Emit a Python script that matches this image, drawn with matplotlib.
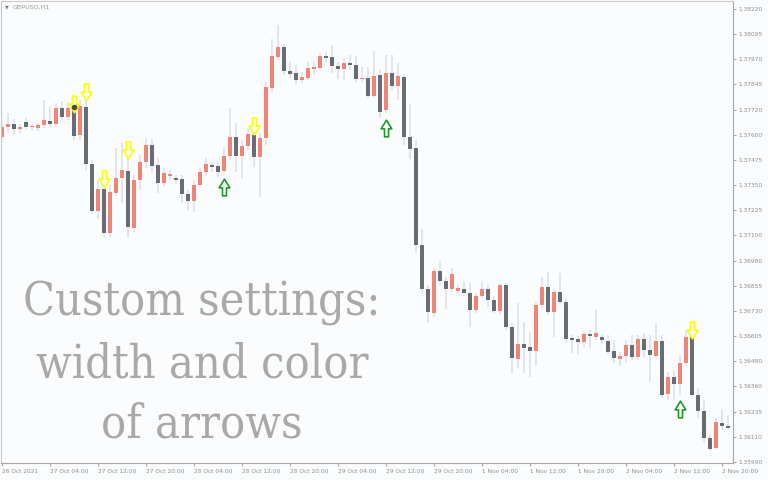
import matplotlib
matplotlib.use('Agg')
import numpy as np
import matplotlib.pyplot as plt
from matplotlib.path import Path

# GBPUSD H1 candles, 26 Oct 2021 20:00 .. 2 Nov 2021 21:00
opens = [1.37590, 1.37639, 1.37654, 1.37629, 1.37664, 1.37637, 1.37634, 1.37649, 1.37669, 1.37654,
         1.37733, 1.37688, 1.37743, 1.37600, 1.37738, 1.37457, 1.37226, 1.37334, 1.37118, 1.37314,
         1.37388, 1.37423, 1.37142, 1.37378, 1.37467, 1.37551, 1.37452, 1.37364, 1.37398, 1.37388,
         1.37383, 1.37310, 1.37275, 1.37354, 1.37418, 1.37452, 1.37447, 1.37423, 1.37497, 1.37590,
         1.37497, 1.37546, 1.37600, 1.37492, 1.37585, 1.37831, 1.37984, 1.38033, 1.37915, 1.37905,
         1.37870, 1.37880, 1.37925, 1.37929, 1.37989, 1.37984, 1.37939, 1.37925, 1.37954, 1.37944,
         1.37875, 1.37880, 1.37792, 1.37895, 1.37723, 1.37905, 1.37841, 1.37885, 1.37590, 1.37536,
         1.37059, 1.36842, 1.36724, 1.36931, 1.36882, 1.36842, 1.36832, 1.36842, 1.36822, 1.36739,
         1.36808, 1.36842, 1.36788, 1.36734, 1.36862, 1.36655, 1.36498, 1.36572, 1.36557, 1.36537,
         1.36763, 1.36852, 1.36729, 1.36827, 1.36778, 1.36601, 1.36596, 1.36581, 1.36621, 1.36606,
         1.36606, 1.36586, 1.36537, 1.36498, 1.36512, 1.36567, 1.36508, 1.36596, 1.36542, 1.36512,
         1.36586, 1.36326, 1.36409, 1.36375, 1.36478, 1.36606, 1.36321, 1.36242, 1.36109, 1.36060,
         1.36183, 1.36168]
highs = [1.37649, 1.37708, 1.37679, 1.37654, 1.37683, 1.37654, 1.37659, 1.37772, 1.37738, 1.37757,
         1.37767, 1.37757, 1.37762, 1.37772, 1.37772, 1.37477, 1.37378, 1.37403, 1.37354, 1.37536,
         1.37560, 1.37487, 1.37403, 1.37501, 1.37585, 1.37580, 1.37487, 1.37437, 1.37428, 1.37403,
         1.37403, 1.37329, 1.37378, 1.37442, 1.37487, 1.37467, 1.37462, 1.37541, 1.37733, 1.37659,
         1.37575, 1.37634, 1.37615, 1.37610, 1.37861, 1.38072, 1.38141, 1.38048, 1.37959, 1.37944,
         1.37910, 1.37959, 1.37959, 1.38003, 1.38008, 1.38043, 1.37959, 1.37979, 1.37993, 1.37989,
         1.37934, 1.37934, 1.38013, 1.37920, 1.37993, 1.37993, 1.37954, 1.37900, 1.37752, 1.37575,
         1.37137, 1.36862, 1.36945, 1.36980, 1.36901, 1.36945, 1.36862, 1.36877, 1.36872, 1.36822,
         1.36877, 1.36862, 1.36808, 1.36872, 1.36872, 1.36675, 1.36773, 1.36680, 1.36631, 1.36778,
         1.36901, 1.36926, 1.36842, 1.36921, 1.36793, 1.36616, 1.36611, 1.36636, 1.36640, 1.36739,
         1.36621, 1.36616, 1.36591, 1.36532, 1.36591, 1.36616, 1.36616, 1.36626, 1.36616, 1.36675,
         1.36616, 1.36434, 1.36444, 1.36517, 1.36640, 1.36616, 1.36355, 1.36296, 1.36124, 1.36207,
         1.36247, 1.36222]
lows = [1.37575, 1.37610, 1.37600, 1.37610, 1.37624, 1.37620, 1.37620, 1.37634, 1.37639, 1.37639,
        1.37674, 1.37674, 1.37575, 1.37575, 1.37428, 1.37211, 1.37187, 1.37098, 1.37098, 1.37300,
        1.37265, 1.37093, 1.37123, 1.37329, 1.37437, 1.37418, 1.37314, 1.37349, 1.37378, 1.37359,
        1.37265, 1.37231, 1.37221, 1.37339, 1.37398, 1.37418, 1.37393, 1.37408, 1.37477, 1.37418,
        1.37388, 1.37526, 1.37442, 1.37295, 1.37551, 1.37806, 1.37969, 1.37895, 1.37880, 1.37851,
        1.37856, 1.37870, 1.37900, 1.37920, 1.37959, 1.37905, 1.37875, 1.37870, 1.37920, 1.37861,
        1.37861, 1.37782, 1.37782, 1.37683, 1.37708, 1.37821, 1.37772, 1.37551, 1.37482, 1.37019,
        1.36822, 1.36675, 1.36704, 1.36862, 1.36744, 1.36827, 1.36818, 1.36808, 1.36655, 1.36724,
        1.36798, 1.36754, 1.36724, 1.36719, 1.36640, 1.36424, 1.36453, 1.36429, 1.36409, 1.36463,
        1.36749, 1.36714, 1.36606, 1.36763, 1.36576, 1.36527, 1.36522, 1.36557, 1.36552, 1.36591,
        1.36572, 1.36522, 1.36478, 1.36463, 1.36483, 1.36493, 1.36493, 1.36503, 1.36385, 1.36503,
        1.36306, 1.36296, 1.36296, 1.36321, 1.36463, 1.36311, 1.36207, 1.36089, 1.36045, 1.36055,
        1.36148, 1.36148]
closes = [1.37639, 1.37654, 1.37629, 1.37639, 1.37639, 1.37641, 1.37649, 1.37674, 1.37654, 1.37733,
          1.37688, 1.37733, 1.37595, 1.37743, 1.37457, 1.37226, 1.37334, 1.37118, 1.37319, 1.37388,
          1.37428, 1.37147, 1.37378, 1.37467, 1.37551, 1.37447, 1.37364, 1.37413, 1.37408, 1.37378,
          1.37310, 1.37275, 1.37354, 1.37418, 1.37457, 1.37442, 1.37418, 1.37497, 1.37590, 1.37497,
          1.37546, 1.37605, 1.37492, 1.37585, 1.37836, 1.37989, 1.38033, 1.37915, 1.37900, 1.37870,
          1.37885, 1.37929, 1.37934, 1.37989, 1.37979, 1.37939, 1.37925, 1.37954, 1.37944, 1.37875,
          1.37880, 1.37792, 1.37890, 1.37713, 1.37905, 1.37841, 1.37890, 1.37590, 1.37531, 1.37059,
          1.36842, 1.36729, 1.36931, 1.36882, 1.36842, 1.36916, 1.36847, 1.36822, 1.36739, 1.36808,
          1.36842, 1.36788, 1.36734, 1.36862, 1.36655, 1.36503, 1.36572, 1.36552, 1.36537, 1.36763,
          1.36852, 1.36729, 1.36827, 1.36778, 1.36596, 1.36591, 1.36581, 1.36621, 1.36611, 1.36626,
          1.36591, 1.36532, 1.36503, 1.36512, 1.36567, 1.36508, 1.36596, 1.36542, 1.36517, 1.36586,
          1.36321, 1.36409, 1.36375, 1.36478, 1.36606, 1.36321, 1.36242, 1.36109, 1.36055, 1.36188,
          1.36168, 1.36158]

time_labels = ['26 Oct 2021', '27 Oct 04:00', '27 Oct 12:00', '27 Oct 20:00', '28 Oct 04:00',
               '28 Oct 12:00', '28 Oct 20:00', '29 Oct 04:00', '29 Oct 12:00', '29 Oct 20:00',
               '1 Nov 04:00', '1 Nov 12:00', '1 Nov 20:00', '2 Nov 04:00', '2 Nov 12:00',
               '2 Nov 20:00']
price_labels = ['1.38220', '1.38095', '1.37970', '1.37845', '1.37720', '1.37600', '1.37475',
                '1.37350', '1.37225', '1.37100', '1.36980', '1.36855', '1.36730', '1.36605',
                '1.36480', '1.36360', '1.36235', '1.36110', '1.35990']

# arrow signals: bar index and price level of the arrow
down_bars = [12, 14, 17, 21, 42, 115]
down_prices = [1.37752, 1.37811, 1.37383, 1.37526, 1.37644, 1.36640]
up_bars = [37, 64, 113]
up_prices = [1.37344, 1.37634, 1.36252]

BULL = '#ef8575'
BEAR = '#686d75'
WICK = '#dcdee8'
BG = '#fbfcfd'
AXC = '#a8a8a8'
TXT = '#8e8e8e'

opens = np.array(opens)
closes = np.array(closes)
n = len(opens)
x = np.arange(n)

fig = plt.figure(figsize=(7.68, 4.8), dpi=100, facecolor=BG)
ax = fig.add_axes([1 / 768, 17 / 480, 732 / 768, 462 / 480])
ax.set_facecolor(BG)

ax.vlines(x, lows, highs, color=WICK, lw=1.1, zorder=1)
colors = [BULL if c >= o else BEAR for o, c in zip(opens, closes)]
body = np.maximum(np.abs(closes - opens), 0.00007)
ax.bar(x, body, bottom=np.minimum(opens, closes), width=0.82, color=colors, lw=0, zorder=2)

# hollow arrows, screen sized
down_path = Path([(-0.12, 0.5), (0.12, 0.5), (0.12, 0.02), (0.32, 0.02), (0.0, -0.5),
                  (-0.32, 0.02), (-0.12, 0.02), (-0.12, 0.5)], closed=True)
up_path = Path([(x_, -y_) for x_, y_ in down_path.vertices], closed=True)
ax.plot(down_bars, down_prices, ls='none', marker=down_path, ms=12,
        mfc='white', mec='#ffff00', mew=1.2, zorder=4)
ax.plot(up_bars, up_prices, ls='none', marker=up_path, ms=12,
        mfc='white', mec='#1f9a2a', mew=1.2, zorder=4)
ax.plot([12], [1.37738], ls='none', marker='o', ms=3, color='#4a4a40', zorder=5)

ax.set_xlim(-1 / 6, (733 - 2) / 6)
ax.set_ylim(1.35985, 1.38259)

ax.set_xticks(np.arange(0, n, 8))
ax.set_xticklabels(time_labels, ha='left')
ax.set_yticks(np.linspace(1.38220, 1.35990, len(price_labels)))
ax.set_yticklabels(price_labels)
ax.yaxis.tick_right()
ax.tick_params(axis='both', colors=AXC, labelcolor=TXT, labelsize=4.2, length=2.5, width=0.8,
               direction='out')
ax.tick_params(axis='x', pad=1.5)
ax.tick_params(axis='y', pad=1.5)

for side in ['left', 'top']:
    ax.spines[side].set_color('#c8c8c8')
    ax.spines[side].set_linewidth(0.8)
for side in ['right', 'bottom']:
    ax.spines[side].set_color(AXC)
    ax.spines[side].set_linewidth(0.8)

# watermark caption
for txt, base in [('Custom settings:', 315), ('width and color', 377), ('of arrows', 437)]:
    fig.text(202 / 768, 1 - base / 480, txt, ha='center', va='baseline', fontsize=33.5,
             family='DejaVu Serif', fontstretch='condensed', color='#a9a9a9', zorder=10)

fig.text(5 / 768, 1 - 7 / 480, '\u25bc', fontsize=3.5, color='#7a7a7a', va='center')
fig.text(13 / 768, 1 - 7 / 480, 'GBPUSD,H1', fontsize=4.6, color='#9a9a9a', va='center')

fig.savefig('out.png', dpi=100, facecolor=BG)
